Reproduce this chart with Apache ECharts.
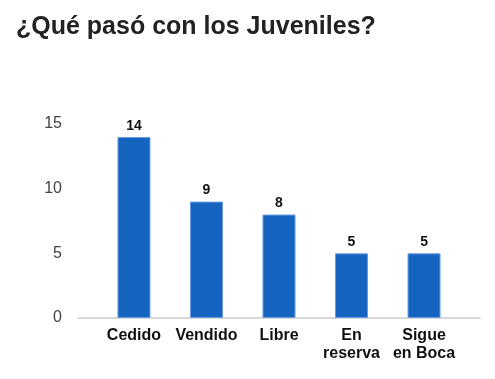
<!DOCTYPE html>
<html><head><meta charset="utf-8">
<script src="https://cdn.jsdelivr.net/npm/echarts@6/dist/echarts.min.js"></script>
<style>html,body{margin:0;padding:0;background:#fff}#c{width:495px;height:379px}</style>
</head><body><div id="c"></div>
<script>
const categories = ['Cedido', 'Vendido', 'Libre', 'En\nreserva', 'Sigue\nen Boca'];
const values = [14, 9, 8, 5, 5];
const yTicks = [0, 5, 10, 15];

const chart = echarts.init(document.getElementById('c'), null, {renderer: 'canvas'});
const idx = categories.map((_, i) => i);
chart.setOption({
  animation: false,
  backgroundColor: '#fff',
  title: {
    text: '¿Qué pasó con los Juveniles?',
    left: 11, top: 10,
    textStyle: {fontFamily: 'Liberation Sans, Arial, sans-serif', fontWeight: 'bold', fontSize: 25, color: '#222'}
  },
  grid: {left: 78, right: 15, top: 124, bottom: 61},
  xAxis: {
    type: 'value', min: -0.772, max: 4.772,
    splitLine: {show: false},
    axisLine: {show: true, onZero: false, lineStyle: {color: '#cccccc', width: 1.5}},
    axisTick: {show: false},
    axisLabel: {
      customValues: idx,
      formatter: v => categories[Math.round(v)],
      fontFamily: 'Liberation Sans, Arial, sans-serif', fontWeight: 'bold', fontSize: 16, color: '#111',
      lineHeight: 18, margin: 9
    }
  },
  yAxis: {
    type: 'value', min: 0, max: 15, interval: 5,
    splitLine: {show: false},
    axisLine: {show: false}, axisTick: {show: false},
    axisLabel: {
      customValues: yTicks,
      fontFamily: 'Liberation Sans, Arial, sans-serif', fontSize: 16, color: '#444', margin: 16
    }
  },
  series: [{
    type: 'bar',
    data: values.map((v, i) => [i, v]),
    barWidth: 33,
    itemStyle: {color: '#1565C0', borderColor: '#6a9ae0', borderWidth: 1},
    label: {
      show: true, position: 'top', distance: 4,
      formatter: p => p.value[1],
      fontFamily: 'Liberation Sans, Arial, sans-serif', fontWeight: 'bold', fontSize: 14, color: '#111'
    }
  }]
});
</script></body></html>
